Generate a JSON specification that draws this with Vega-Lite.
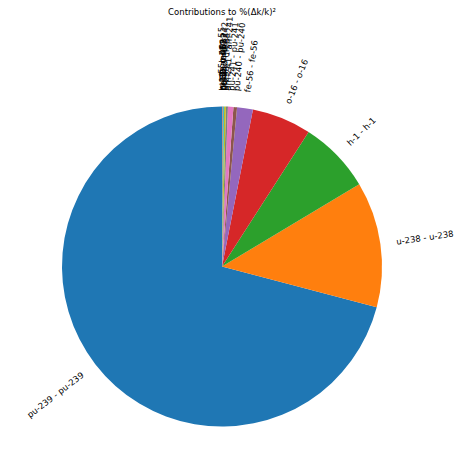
{
  "$schema": "https://vega.github.io/schema/vega-lite/v6.json",
  "width": 444,
  "height": 415,
  "autosize": "none",
  "padding": {"left": 0, "top": 59, "right": 30, "bottom": 0},
  "background": "white",
  "title": {
    "text": "Contributions to %(Δk/k)²",
    "font": "DejaVu Sans",
    "fontSize": 8.5,
    "fontWeight": "normal",
    "color": "black",
    "anchor": "middle",
    "offset": 0
  },
  "config": {"view": {"stroke": null}},
  "data": {
    "values": [
      {"idx": 0, "pair": "pu-239 - pu-239", "value": 70.9},
      {"idx": 1, "pair": "u-238 - u-238", "value": 12.7},
      {"idx": 2, "pair": "h-1 - h-1", "value": 7.3},
      {"idx": 3, "pair": "o-16 - o-16", "value": 6.0},
      {"idx": 4, "pair": "fe-56 - fe-56", "value": 1.6},
      {"idx": 5, "pair": "pu-240 - pu-240", "value": 0.36},
      {"idx": 6, "pair": "pu-241 - pu-241", "value": 0.55},
      {"idx": 7, "pair": "am-241 - am-241", "value": 0.2},
      {"idx": 8, "pair": "u-235 - u-235", "value": 0.18},
      {"idx": 9, "pair": "pu-242 - pu-242", "value": 0.08},
      {"idx": 10, "pair": "na-23 - na-23", "value": 0.03},
      {"idx": 11, "pair": "cr-52 - cr-52", "value": 0.03},
      {"idx": 12, "pair": "ni-58 - ni-58", "value": 0.02},
      {"idx": 13, "pair": "c-12 - c-12", "value": 0.02},
      {"idx": 14, "pair": "b-10 - b-10", "value": 0.02},
      {"idx": 15, "pair": "mn-55 - mn-55", "value": 0.01}
    ]
  },
  "transform": [
    {"stack": "value", "groupby": [], "sort": [{"field": "idx", "order": "descending"}], "as": ["v0", "v1"]},
    {"calculate": "(datum.v0 + datum.v1) / 2", "as": "mid"},
    {"calculate": "datum.mid * 3.6 < 180 ? datum.mid * 3.6 - 90 : datum.mid * 3.6 - 270", "as": "ang"}
  ],
  "layer": [
    {
      "mark": {"type": "arc", "outerRadius": 160, "stroke": null},
      "encoding": {
        "theta": {"field": "v0", "type": "quantitative", "stack": null, "scale": {"domain": [0, 100]}},
        "theta2": {"field": "v1"},
        "color": {
          "field": "idx",
          "type": "nominal",
          "legend": null,
          "scale": {
            "domain": [0, 1, 2, 3, 4, 5, 6, 7, 8, 9, 10, 11, 12, 13, 14, 15],
            "range": ["#1f77b4", "#ff7f0e", "#2ca02c", "#d62728", "#9467bd", "#8c564b", "#e377c2", "#7f7f7f", "#bcbd22", "#17becf",
                      "#1f77b4", "#ff7f0e", "#2ca02c", "#d62728", "#9467bd", "#8c564b"]
          }
        }
      }
    },
    {
      "transform": [{"filter": "datum.mid * 3.6 < 180"}],
      "mark": {"type": "text", "radius": 176, "align": "left", "baseline": "middle", "font": "DejaVu Sans", "fontSize": 8.5, "color": "black"},
      "encoding": {
        "theta": {"field": "mid", "type": "quantitative", "stack": null, "scale": {"domain": [0, 100]}},
        "text": {"field": "pair"},
        "angle": {"field": "ang", "type": "quantitative", "scale": null}
      }
    },
    {
      "transform": [{"filter": "datum.mid * 3.6 >= 180"}],
      "mark": {"type": "text", "radius": 176, "align": "right", "baseline": "middle", "font": "DejaVu Sans", "fontSize": 8.5, "color": "black"},
      "encoding": {
        "theta": {"field": "mid", "type": "quantitative", "stack": null, "scale": {"domain": [0, 100]}},
        "text": {"field": "pair"},
        "angle": {"field": "ang", "type": "quantitative", "scale": null}
      }
    }
  ]
}
